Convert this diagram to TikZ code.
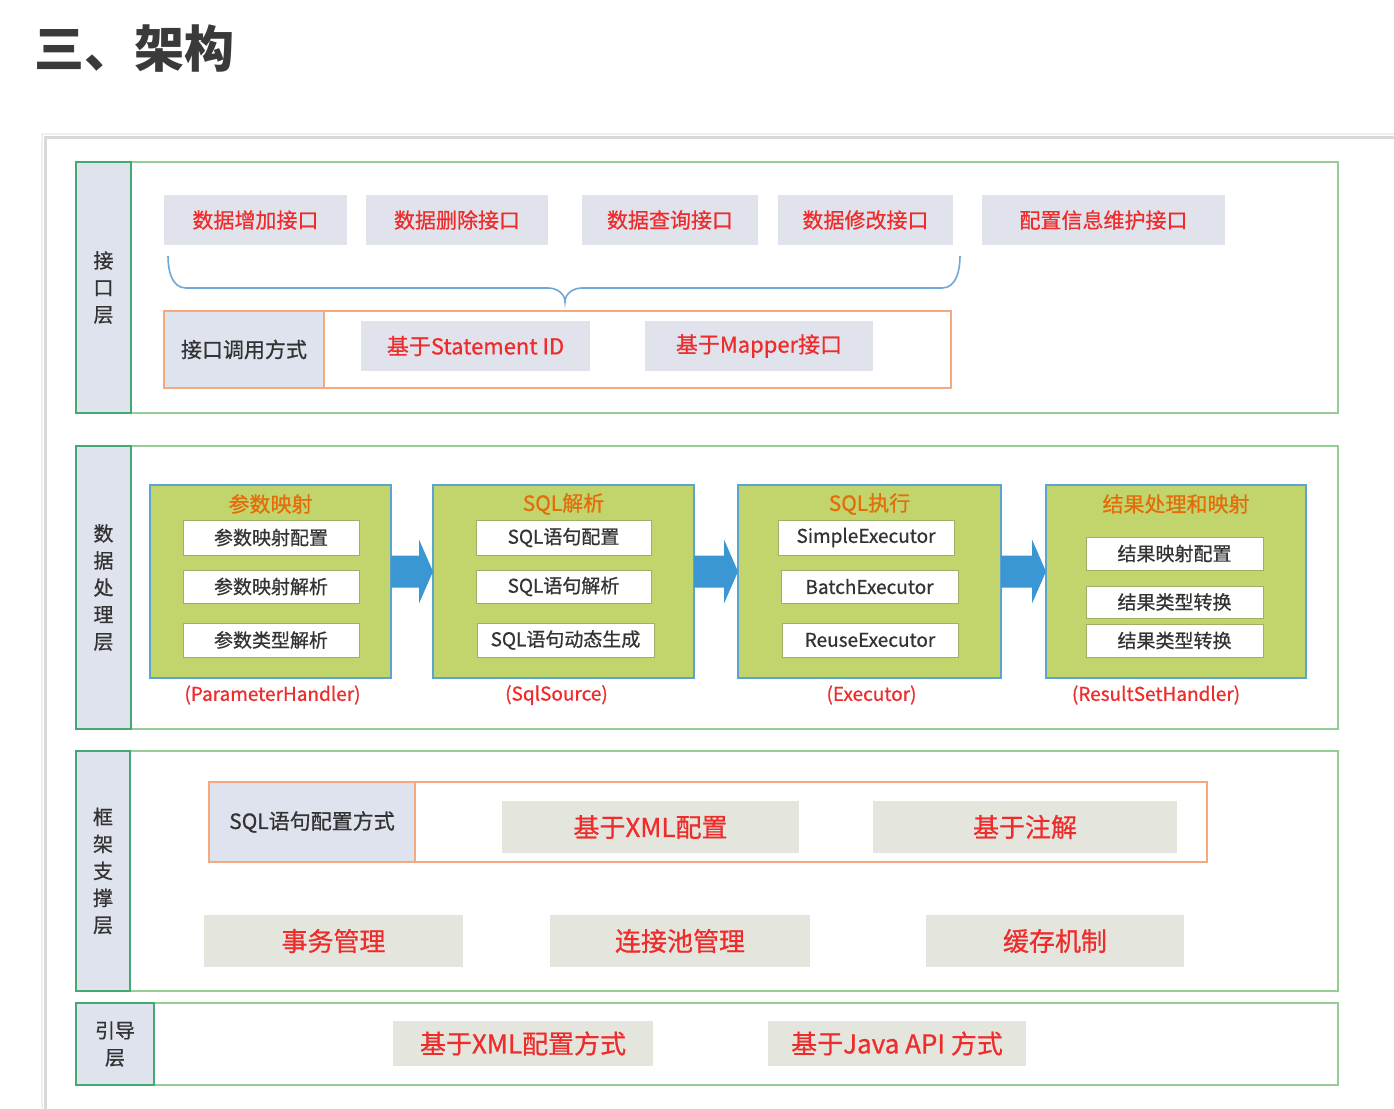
\documentclass[tikz,border=0pt]{standalone}
\usepackage{fontspec}
\setmainfont{Noto Sans CJK SC}
\newfontfamily\medfont[FakeBold=0.7]{Noto Sans CJK SC}
\usetikzlibrary{calc}
\definecolor{titlegray}{HTML}{3A3A3A}
\definecolor{txtdark}{HTML}{333333}
\definecolor{redtxt}{HTML}{EE2C2C}
\definecolor{orangetxt}{HTML}{E46C0A}
\definecolor{layergreen}{HTML}{96CC96}
\definecolor{labgreen}{HTML}{44A870}
\definecolor{labfill}{HTML}{DEE3EE}
\definecolor{ifill}{HTML}{E0E3EB}
\definecolor{gfill}{HTML}{E4E6DD}
\definecolor{orangeline}{HTML}{F4A97F}
\definecolor{olive}{HTML}{C2D46C}
\definecolor{oliveborder}{HTML}{5BA4CF}
\definecolor{subborder}{HTML}{9DB06A}
\definecolor{arrblue}{HTML}{3A97D3}
\definecolor{braceblue}{HTML}{6FA8D6}
\newcommand\fs[1]{\fontsize{#1}{#1}\selectfont}
\newcommand\rbox[7]{\node[#6, minimum width={(#4)-(#2)}, minimum height={(#5)-(#3)}] (#1) at ({((#2)+(#4))/2},{((#3)+(#5))/2}) {#7};}
\newcommand\blockarrow[2]{%
  \coordinate (#1a) at ($(#1.east)+(0,-10)$);
  \coordinate (#1b) at (#2.west |- #1a);
  \fill[arrblue] ($(#1a)+(0,-16)$) -- ($(#1b)+(-14,-16)$) -- ($(#1b)+(-14,-32)$) -- (#1b)
    -- ($(#1b)+(-14,32)$) -- ($(#1b)+(-14,16)$) -- ($(#1a)+(0,16)$) -- cycle;}
\tikzset{
  every node/.style={inner sep=0pt, outer sep=0pt, align=center},
  layer/.style={draw=layergreen, line width=1.8pt, fill=white},
  labcol/.style={draw=labgreen, line width=1.8pt, fill=labfill, text=txtdark, font=\medfont\fontsize{20}{27}\selectfont},
  ibox/.style={fill=ifill, text=redtxt, font=\medfont\fs{21}},
  callbox/.style={fill=ifill, text=redtxt, font=\medfont\fs{22}},
  orangebox/.style={draw=orangeline, line width=1.5pt},
  orangelab/.style={draw=orangeline, line width=1.5pt, fill=labfill, text=txtdark, font=\medfont\fs{21}},
  olivebox/.style={fill=olive, draw=oliveborder, line width=1.2pt},
  subbox/.style={fill=white, draw=subborder, line width=0.8pt, text=txtdark, font=\medfont\fs{19}},
  otitle/.style={text=orangetxt, font=\medfont\fs{21}},
  paren/.style={text=redtxt, font=\medfont\fs{19}},
  gbox/.style={fill=gfill, text=redtxt, font=\medfont\fs{26}},
  brace/.style={draw=braceblue, line width=1.6pt}
}
\begin{document}
\begin{tikzpicture}[x=1pt, y=-1pt]
\useasboundingbox[fill=white] (0,0) rectangle (1394,1108);
% title
\node[anchor=west, text=titlegray, font=\fontsize{50}{55}\selectfont\bfseries] (title) at (34,49) {三、架构};
% card
\draw[gray!30, line width=3pt] (45,1110) -- (45,137) -- (1396,137);
\draw[gray!12, line width=2pt] (42,1110) -- (42,134) -- (1396,134);

% ===== Layer 1 =====
\rbox{L1}{76}{162}{1338}{413}{layer}{}
\rbox{L1lab}{76}{162}{131}{413}{labcol}{接\\口\\层}
\rbox{i1}{164}{195}{347}{245}{ibox}{数据增加接口}
\rbox{i2}{366}{195}{548}{245}{ibox}{数据删除接口}
\rbox{i3}{582}{195}{758}{245}{ibox}{数据查询接口}
\rbox{i4}{778}{195}{953}{245}{ibox}{数据修改接口}
\rbox{i5}{982}{195}{1225}{245}{ibox}{配置信息维护接口}
\draw[brace] (168,256) to[out=-90,in=180] (186,288) -- (548,288) to[out=0,in=90] (565,302)
  to[out=90,in=180] (582,288) -- (942,288) to[out=0,in=-90] (960,256);
\rbox{O1}{164}{311}{951}{388}{orangebox}{}
\rbox{O1lab}{164}{311}{324}{388}{orangelab}{接口调用方式}
\rbox{c1}{361}{321}{590}{371}{callbox}{基于Statement ID}
\rbox{c2}{645}{321}{873}{371}{callbox}{基于Mapper接口}

% ===== Layer 2 =====
\rbox{L2}{76}{446}{1338}{729}{layer}{}
\rbox{L2lab}{76}{446}{131}{729}{labcol}{数\\据\\处\\理\\层}
\rbox{g1}{150}{485}{391}{678}{olivebox}{}
\rbox{g2}{433}{485}{694}{678}{olivebox}{}
\rbox{g3}{738}{485}{1001}{678}{olivebox}{}
\rbox{g4}{1046}{485}{1306}{678}{olivebox}{}
\node[otitle] (g1t) at ($(g1.north)+(0,19)$) {参数映射};
\node[otitle] (g2t) at ($(g2.north)+(0,19)$) {SQL解析};
\node[otitle] (g3t) at ($(g3.north)+(0,19)$) {SQL执行};
\node[otitle] (g4t) at ($(g4.north)+(0,19)$) {结果处理和映射};
\rbox{s11}{183}{520}{359}{555}{subbox}{参数映射配置}
\rbox{s12}{183}{570}{359}{603}{subbox}{参数映射解析}
\rbox{s13}{183}{623}{359}{657}{subbox}{参数类型解析}
\rbox{s21}{476}{520}{651}{555}{subbox}{SQL语句配置}
\rbox{s22}{476}{570}{651}{603}{subbox}{SQL语句解析}
\rbox{s23}{477}{623}{654}{657}{subbox}{SQL语句动态生成}
\rbox{s31}{778}{520}{954}{555}{subbox}{SimpleExecutor}
\rbox{s32}{781}{570}{958}{603}{subbox}{BatchExecutor}
\rbox{s33}{782}{623}{958}{657}{subbox}{ReuseExecutor}
\rbox{s41}{1086}{537}{1263}{570}{subbox}{结果映射配置}
\rbox{s42}{1086}{586}{1263}{618}{subbox}{结果类型转换}
\rbox{s43}{1086}{624}{1263}{657}{subbox}{结果类型转换}
\node[paren] (p1) at ($(g1.south)+(2,17)$) {(ParameterHandler)};
\node[paren] (p2) at ($(g2.south)+(-7,17)$) {(SqlSource)};
\node[paren] (p3) at ($(g3.south)+(2,17)$) {(Executor)};
\node[paren] (p4) at ($(g4.south)+(-20,17)$) {(ResultSetHandler)};
\blockarrow{g1}{g2}
\blockarrow{g2}{g3}
\blockarrow{g3}{g4}

% ===== Layer 3 =====
\rbox{L3}{76}{751}{1338}{991}{layer}{}
\rbox{L3lab}{76}{751}{130}{991}{labcol}{框\\架\\支\\撑\\层}
\rbox{O3}{209}{782}{1207}{862}{orangebox}{}
\rbox{O3lab}{209}{782}{415}{862}{orangelab}{SQL语句配置方式}
\rbox{x1}{502}{801}{799}{853}{gbox}{基于XML配置}
\rbox{x2}{873}{801}{1177}{853}{gbox}{基于注解}
\rbox{m1}{204}{915}{463}{967}{gbox}{事务管理}
\rbox{m2}{550}{915}{810}{967}{gbox}{连接池管理}
\rbox{m3}{926}{915}{1184}{967}{gbox}{缓存机制}

% ===== Layer 4 =====
\rbox{L4}{76}{1003}{1338}{1085}{layer}{}
\rbox{L4lab}{76}{1003}{154}{1085}{labcol}{引导\\层}
\rbox{b1}{393}{1021}{653}{1066}{gbox}{基于XML配置方式}
\rbox{b2}{768}{1021}{1026}{1066}{gbox}{基于Java API 方式}
\end{tikzpicture}
\end{document}
